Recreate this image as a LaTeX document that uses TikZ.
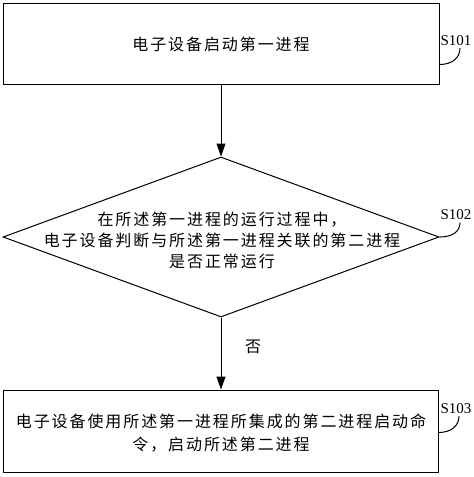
\documentclass[tikz,border=0pt]{standalone}
\usepackage{fontspec}
\setmainfont{Liberation Serif}
\newfontfamily\cjk[LetterSpace=12]{Noto Sans CJK SC}
\usetikzlibrary{shapes.geometric,arrows.meta}
\tikzset{
  stepbox/.style={draw, line width=1pt, inner sep=0pt},
  cjktext/.style={font=\cjk\fontsize{16pt}{21pt}\selectfont, align=center, inner sep=0pt},
  steplabel/.style={font=\fontsize{15pt}{18pt}\selectfont, inner sep=0pt},
  flow/.style={line width=1pt, -{Triangle[length=13pt,width=9pt]}},
  tag/.style={line width=1pt},
}
\begin{document}
\begin{tikzpicture}[x=1pt,y=-1pt]
\useasboundingbox (0,0) rectangle (474,477);
% S101
\node[stepbox, minimum width=436pt, minimum height=81pt] (s1) at (221,44) {};
\node[cjktext] (t1) at (s1) {电子设备启动第一进程};
% S102
\node[diamond, stepbox, minimum width=436pt, minimum height=160pt] (s2) at (221,237) {};
\node[cjktext] (t2) at (222,240) {在所述第一进程的运行过程中，\\电子设备判断与所述第一进程关联的第二进程\\是否正常运行};
% S103
\node[stepbox, minimum width=435pt, minimum height=82pt] (s3) at (220.5,431) {};
\node[cjktext, font=\cjk\fontsize{16pt}{23pt}\selectfont] (t3) at (221,433) {电子设备使用所述第一进程所集成的第二进程启动命\\令，启动所述第二进程};
% arrows
\draw[flow] (s1.south -| s2.north) -- (s2.north);
\draw[flow] (s2.south) -- (s2.south |- s3.north);
\node[cjktext] (no) at (253,347) {否};
% labels
\node[steplabel] (l1) at (456,41) {S101};
\node[steplabel] (l2) at (456,215) {S102};
\node[steplabel] (l3) at (456,409) {S103};
\coordinate (c1) at (460,48);
\coordinate (c2) at (460,222.5);
\coordinate (c3) at (459,416);
\draw[tag] (s1.east |- 0,64.5) .. controls (452,64.5) and (460,58) .. (c1);
\draw[tag] (s2.east) .. controls (452,237) and (460,232) .. (c2);
\draw[tag] (s3.east |- 0,432.5) .. controls (451,432.5) and (459,426) .. (c3);
\end{tikzpicture}
\end{document}
